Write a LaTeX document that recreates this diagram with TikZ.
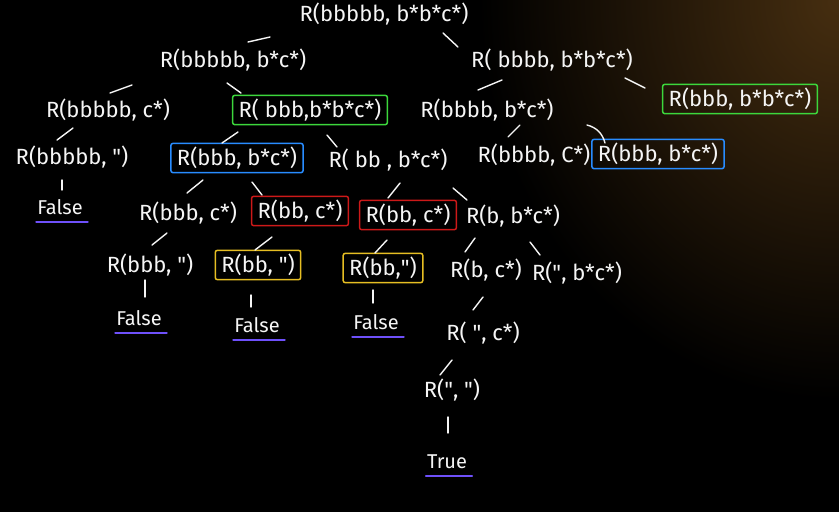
\documentclass[tikz,border=0pt]{standalone}
\usepackage{fontspec}
\setmainfont{Fira Sans}

\definecolor{chalk}{RGB}{245,245,245}
\definecolor{hlgreen}{RGB}{60,215,60}
\definecolor{hlblue}{RGB}{40,140,255}
\definecolor{hlred}{RGB}{205,25,25}
\definecolor{hlyellow}{RGB}{230,190,35}
\definecolor{ulpurple}{RGB}{110,80,250}
\definecolor{glow}{RGB}{70,46,16}

\begin{document}
\begin{tikzpicture}[x=1pt,y=-1pt,
    term/.style={text=chalk,font=\fontsize{22}{24}\selectfont,inner sep=2pt},
    seen/.style={term,draw=#1,line width=1.5pt,rounded corners=2pt,inner xsep=6pt,inner ysep=3.5pt},
    answer/.style={text=chalk,font=\fontsize{20}{22}\selectfont,inner sep=1pt},
    edge/.style={draw=chalk,line width=1.4pt,line cap=round},
    uline/.style={draw=ulpurple,line width=1.6pt,line cap=round}]
  \useasboundingbox (0,0) rectangle (839,512);
  \fill[black] (0,0) rectangle (839,512);
  \begin{scope}
    \clip (0,0) rectangle (839,512);
    \shade[inner color=glow,outer color=black] (839,0) ellipse [x radius=360, y radius=400];
  \end{scope}

  % calls
  \node[term] (A1) at (384,14) {R(bbbbb, b*b*c*)};
  \node[term] (B1) at (233,60) {R(bbbbb, b*c*)};
  \node[term] (B2) at (552,60) {R( bbbb, b*b*c*)};
  \node[term] (C1) at (108,110) {R(bbbbb, c*)};
  \node[seen=hlgreen] (C2) at (310,110) {R( bbb,b*b*c*)};
  \node[term] (C3) at (487,110) {R(bbbb, b*c*)};
  \node[seen=hlgreen] (C4) at (740,99) {R(bbb, b*b*c*)};
  \node[term] (D1) at (72,157) {R(bbbbb, \textquotedbl)};
  \node[seen=hlblue] (D2) at (237,158) {R(bbb, b*c*)};
  \node[term] (D3) at (388,160) {R( bb , b*c*)};
  \node[term] (D4) at (534,155) {R(bbbb, C*)};
  \node[seen=hlblue] (D5) at (658,154) {R(bbb, b*c*)};
  \node[term] (E1) at (188,213) {R(bbb, c*)};
  \node[seen=hlred] (E2) at (300,211) {R(bb, c*)};
  \node[seen=hlred] (E3) at (408,215) {R(bb, c*)};
  \node[term] (E4) at (513,216) {R(b, b*c*)};
  \node[term] (F1) at (150,265) {R(bbb, \textquotedbl)};
  \node[seen=hlyellow] (F2) at (258,265) {R(bb, \textquotedbl)};
  \node[seen=hlyellow] (F3) at (383,268) {R(bb,\textquotedbl)};
  \node[term] (F4) at (486,270) {R(b, c*)};
  \node[term] (F5) at (577,273) {R(\textquotedbl, b*c*)};
  \node[term] (G1) at (483,333) {R( \textquotedbl, c*)};
  \node[term] (H1) at (452,390) {R(\textquotedbl, \textquotedbl)};

  % results
  \node[answer] (X1) at (60,207) {False};
  \node[answer] (X2) at (139,318) {False};
  \node[answer] (X3) at (257,325) {False};
  \node[answer] (X4) at (376,322) {False};
  \node[answer] (X5) at (447,462) {True};

  % strokes
  \foreach \p/\ax/\ay/\c/\bx/\by in {
      A1/-114/23/B1/15/-18, A1/59/19/B2/-94/-13,
      B1/-101/25/C1/2/-17, B1/-6/23/C2/-69/-17,
      B2/-50/20/C3/-9/-20, B2/73/18/C4/-95/-11,
      C1/-35/18/D1/-15/-17, C2/-72/22/D2/-15/-15, C2/17/25/D3/-51/-13,
      C3/33/15/D4/-26/-18,
      D1/-10/23/X1/2/-17, D2/-34/22/E1/-1/-20, D2/15/24/E2/-38/-16,
      D3/12/23/E3/-20/-17, D3/65/28/E4/-46/-16,
      E1/-21/20/F1/2/-20, E2/-28/26/F2/-3/-15, E3/-21/25/F3/-8/-15,
      E4/-38/22/F4/-21/-18, E4/17/26/F5/-37/-18,
      F1/-5/15/X2/6/-21, F2/-7/30/X3/-6/-18, F3/-10/22/X4/-3/-19,
      F4/-3/27/G1/-10/-23, G1/-31/27/H1/-12/-15, H1/-4/27/X5/1/-29}
    \draw[edge] ([shift={(\ax,\ay)}]\p.center) -- ([shift={(\bx,\by)}]\c.center);
  \draw[edge] ([shift={(100,15)}]C3.center) to[bend left=30] ([shift={(-53,-11)}]D5.center);

  % underlines
  \foreach \r in {X1,X2,X3,X4,X5}
    \draw[uline] ([yshift=-6pt]\r.south west) -- ([xshift=4pt,yshift=-6pt]\r.south east);
\end{tikzpicture}
\end{document}
